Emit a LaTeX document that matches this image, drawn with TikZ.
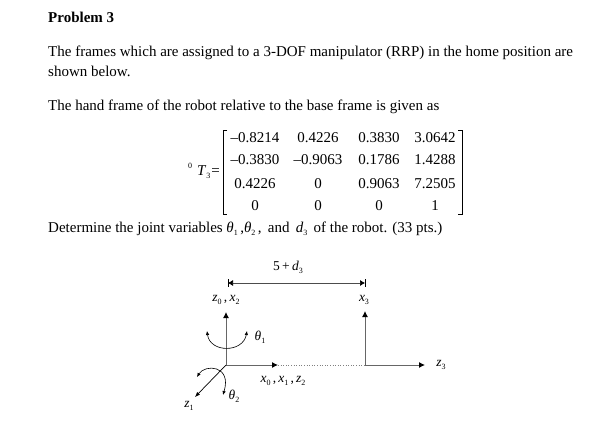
\documentclass[tikz,border=0pt]{standalone}
\usepackage{fontspec}
\setmainfont{Liberation Serif}
\usetikzlibrary{arrows.meta}
\newcommand{\vi}[1]{\textit{#1}}
\newcommand{\lo}[1]{\raisebox{-0.22em}{\fontsize{8}{9}\selectfont #1}}
\tikzset{
  txt/.style={anchor=base west,inner sep=0pt,font=\fontsize{15}{17}\selectfont},
  lab/.style={inner sep=0pt,font=\fontsize{13.5}{15}\selectfont},
  entry/.style={inner sep=0pt,anchor=base,font=\fontsize{15}{17}\selectfont},
  axis/.style={draw=black!60,line width=1pt,-{Latex[length=6pt,width=6pt,black]}},
  thin arrow/.style={draw=black,line width=0.7pt,-{Latex[length=5pt,width=4pt]}},
  rot/.style={draw=black,line width=0.6pt,{Latex[length=4pt,width=3.5pt]}-{Latex[length=4pt,width=3.5pt]}},
  dim/.style={draw=black!70,line width=0.7pt,{Latex[length=5pt,width=6pt,black]}-{Latex[length=5pt,width=6pt,black]}},
  brk/.style={draw=black,line width=0.7pt}
}
\begin{document}
\begin{tikzpicture}[x=1pt,y=-1pt]
\useasboundingbox (0,0) rectangle (608,429);
\fill[white] (0,0) rectangle (608,429);
\node[txt,font=\fontsize{15}{17}\selectfont\bfseries] (title) at (48,22) {Problem 3};
\node[txt] (l1) at (48,56) {The frames which are assigned to a 3-DOF manipulator (RRP) in the home position are};
\node[txt] (l2) at (48,76) {shown below.};
\node[txt] (l3) at (48,110) {The hand frame of the robot relative to the base frame is given as};
\node[lab,anchor=base west,font=\fontsize{15}{17}\selectfont] (lhs) at (188,175) {\raisebox{0.42em}{\fontsize{8}{9}\selectfont 0}\,\,\vi{T}\lo{3}\hspace{1pt}=};
\foreach \c/\x/\a/\b/\d/\e in {1/255/–0.8214/–0.3830/0.4226/0,2/318/0.4226/–0.9063/0/0,3/379/0.3830/0.1786/0.9063/0,4/435/3.0642/1.4288/7.2505/1}{
  \node[entry] (m1\c) at (\x,142) {\a};
  \node[entry] (m2\c) at (\x,164) {\b};
  \node[entry] (m3\c) at (\x,188) {\d};
  \node[entry] (m4\c) at (\x,210) {\e};
}
\draw[brk] (227,130)--(223,130)--(223,214)--(227,214);
\draw[brk] (458,130)--(462,130)--(462,214)--(458,214);
\node[txt] (l4) at (48,232) {Determine the joint variables \vi{θ}\lo{1}\,,\vi{θ}\lo{2}\,,\, and\, \vi{d}\lo{3}\, of the robot. (33 pts.)};
\coordinate (O) at (226,365);
\coordinate (Zt) at (226,312);
\coordinate (X) at (278,365);
\coordinate (D) at (365,365);
\coordinate (X3) at (365,311);
\coordinate (Z3) at (425,365);
\coordinate (Z1) at (195,397);
\coordinate (DL) at (228,283);
\coordinate (DR) at (365,283);
\draw[axis] (O)--(Zt);
\draw[axis] (O)--(X);
\draw[black!50,line width=0.6pt,dotted] (X)--(D);
\draw[axis] (D)--(X3);
\draw[axis] (D)--(Z3);
\draw[thin arrow] (O)--(Z1);
\draw[dim] (DL)--(DR);
\draw[black,line width=0.7pt] (DL)++(0,-4)--++(0,8);
\draw[black,line width=0.7pt] (DR)++(0,-4)--++(0,8);
\node[lab] (dl) at (288,267) {5\,+\,\vi{d}\lo{3}};
\node[lab] (n1) at (226,300) {\vi{z}\lo{0}\,,\,\vi{x}\lo{2}};
\node[lab] (n2) at (364,300) {\vi{x}\lo{3}};
\node[lab] (n3) at (283,381) {\vi{x}\lo{0}\,,\,\vi{x}\lo{1}\,,\,\vi{z}\lo{2}};
\node[lab] (n4) at (441,365) {\vi{z}\lo{3}};
\node[lab] (n5) at (189,406) {\vi{z}\lo{1}};
\node[lab] (n6) at (260,337) {\vi{θ}\lo{1}};
\node[lab] (n7) at (234,396) {\vi{θ}\lo{2}};
\draw[rot] (207,331) .. controls (210,353) and (243,353) .. (247,331);
\draw[rot] (197,377) .. controls (205,364) and (232,365) .. (223,395);
\end{tikzpicture}
\end{document}
